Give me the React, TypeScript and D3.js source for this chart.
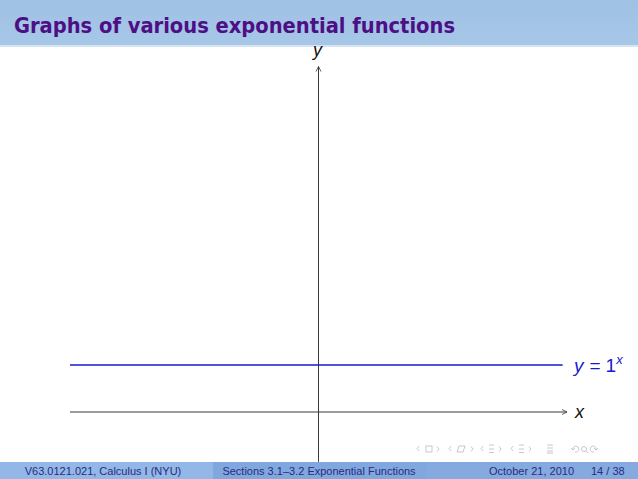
import * as d3 from "d3";
import React from "react";

// chart data
const xDomain = [-4, 4];
const yAxisExtent = [-1.06, 7.35];
const baseValue = 1; // y = 1^x
const curveXs = [-4, -3, -2, -1, 0, 1, 2, 3, 3.93];
const curveYs = curveXs.map((x) => Math.pow(baseValue, x));
const curveLabel = ["y", "=", "1", "x"];
const titleText = "Graphs of various exponential functions";
const footerParts = [
  "V63.0121.021, Calculus I  (NYU)",
  "Sections 3.1–3.2  Exponential Functions",
  "October 21, 2010",
  "14 / 38",
];

const W = 638;
const H = 479;

const App = () => {
  const x = d3.scaleLinear().domain(xDomain).range([70, 567]);
  const y = d3.scaleLinear().domain([0, 1]).range([412, 365]);

  const line = d3
    .line<number>()
    .x((d) => x(d))
    .y((d, i) => y(curveYs[i]));

  const axisColor = "#3a3a3a";
  const blue = "#1a1acc";
  const footText = "#2b2b80";
  const navGray = "#b8b8cc";

  const x0 = x(0);
  const yTop = y(yAxisExtent[1]);
  const yBot = y(yAxisExtent[0]);

  return (
    <svg
      width={W}
      height={H}
      style={{ position: "absolute", left: 0, top: 0 }}
      fontFamily="'Liberation Sans', Arial, sans-serif"
    >
      <defs>
        <linearGradient id="headShade" x1="0" y1="0" x2="0" y2="1">
          <stop offset="0" stopColor="#9fc1e4" />
          <stop offset="1" stopColor="#a7c7e7" />
        </linearGradient>
      </defs>
      <rect x={0} y={0} width={W} height={H} fill="#fff" />

      {/* header */}
      <rect x={0} y={0} width={W} height={46} fill="url(#headShade)" />
      <rect x={0} y={45} width={W} height={2} fill="#d6e3f2" />
      <text
        x={14}
        y={33}
        fill="#4d0f85"
        fontSize={20.5}
        fontWeight="bold"
        fontFamily="'DejaVu Sans', sans-serif"
        textLength={441}
        lengthAdjust="spacingAndGlyphs"
      >
        {titleText}
      </text>

      {/* axes */}
      <line x1={x(xDomain[0])} x2={x(xDomain[1])} y1={y(0)} y2={y(0)} stroke={axisColor} strokeWidth={1} />
      <path
        d={`M${x(xDomain[1]) - 5},${y(0) - 2.5} L${x(xDomain[1])},${y(0)} L${x(xDomain[1]) - 5},${y(0) + 2.5}`}
        fill="none"
        stroke={axisColor}
        strokeWidth={0.8}
      />
      <text x={x(xDomain[1]) + 8} y={y(0) + 6} fontSize={18} fontStyle="italic" fill="#111">
        x
      </text>

      <line x1={x0} x2={x0} y1={yBot} y2={yTop} stroke={axisColor} strokeWidth={1} />
      <path
        d={`M${x0 - 2.5},${yTop + 5} L${x0},${yTop} L${x0 + 2.5},${yTop + 5}`}
        fill="none"
        stroke={axisColor}
        strokeWidth={0.8}
      />
      <text x={x0 - 1} y={yTop - 11} fontSize={18} fontStyle="italic" fill="#111" textAnchor="middle">
        y
      </text>

      {/* curve */}
      <path d={line(curveXs) || ""} fill="none" stroke={blue} strokeWidth={1.4} />
      <text x={x(xDomain[1]) + 7} y={y(1) + 7} fill={blue} fontSize={19}>
        <tspan fontStyle="italic">{curveLabel[0]}</tspan>
        <tspan dx={6}>{curveLabel[1]}</tspan>
        <tspan dx={5}>{curveLabel[2]}</tspan>
        <tspan fontStyle="italic" fontSize={13} dy={-8}>
          {curveLabel[3]}
        </tspan>
      </text>

      {/* navigation symbols */}
      <g fill="none" stroke={navGray} strokeWidth={0.8}>
        <path d="M419,451 l-2,-2.5 l2,-2.5" />
        <rect x={426} y={446} width={6} height={6} />
        <path d="M437,446.5 l2,2.5 l-2,2.5" />
        <path d="M451,451 l-2,-2.5 l2,-2.5" />
        <path d="M457,452 l2,-6 l6,0 l-2,6 z" />
        <path d="M471,446.5 l2,2.5 l-2,2.5" />
        <path d="M483,451 l-2,-2.5 l2,-2.5" />
        <path d="M489,445 h5 M489,449 h5 M489,452.5 h5" />
        <path d="M499,446.5 l2,2.5 l-2,2.5" />
        <path d="M513,451 l-2,-2.5 l2,-2.5" />
        <path d="M519,445 h5 M519,449 h5 M519,452.5 h5" />
        <path d="M529,446.5 l2,2.5 l-2,2.5" />
        <path d="M547,445 h6 M547,448 h6 M547,451 h6 M547,453 h6" />
        <path d="M573,450 a3,3 0 1 1 2,2 M571,448 l2,2 l2,-2" />
        <circle cx={584} cy={449} r={2.5} />
        <path d="M586,451 l2,2" />
        <path d="M596,450 a3,3 0 1 0 -2,2 M598,448 l-2,2 l-2,-2" />
      </g>

      {/* footer */}
      <rect x={0} y={462} width={213} height={17} fill="#93b7e7" />
      <rect x={213} y={462} width={213} height={17} fill="#80a7de" />
      <rect x={426} y={462} width={212} height={17} fill="#84aadf" />
      <g fontSize={11} fill={footText}>
        <text x={103} y={474.5} textAnchor="middle">
          {footerParts[0]}
        </text>
        <text x={319} y={474.5} textAnchor="middle">
          {footerParts[1]}
        </text>
        <text x={489} y={474.5}>
          {footerParts[2]}
        </text>
        <text x={591} y={474.5}>
          {footerParts[3]}
        </text>
      </g>
    </svg>
  );
};

export default App;
